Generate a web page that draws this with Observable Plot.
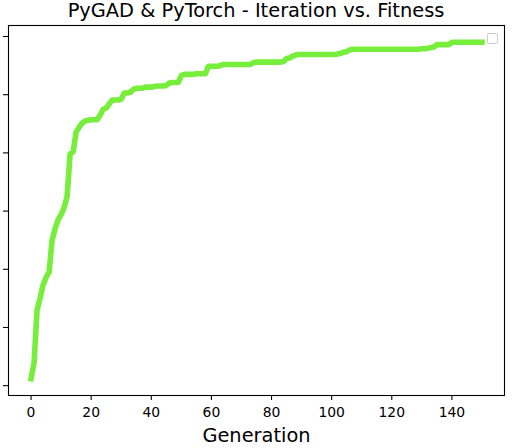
<!DOCTYPE html>
<html>
<head>
<meta charset="utf-8">
<script src="https://cdn.jsdelivr.net/npm/d3@7"></script>
<script src="https://cdn.jsdelivr.net/npm/@observablehq/plot@0.6"></script>
<style>
  html, body { margin: 0; padding: 0; background: #fff; }
  #wrap { position: relative; width: 524px; height: 448px; font-family: "DejaVu Sans", sans-serif; }
  #title { height: 22px; line-height: 22px; font-size: 19.4px; text-align: center; padding-left: 8px; padding-right: 20px; color: #000; white-space: nowrap; }
  #legend { position: absolute; left: 487px; top: 33px; width: 9px; height: 9px; border: 1px solid #ccc; border-radius: 2px; background: rgba(255,255,255,0.8); }
  svg { display: block; }
</style>
</head>
<body>
<div id="wrap">
  <div id="title">PyGAD &amp; PyTorch - Iteration vs. Fitness</div>
  <div id="chart"></div>
  <div id="legend"></div>
</div>
<script>
const titleText = "PyGAD & PyTorch - Iteration vs. Fitness";
const xLabel = "Generation";
const xTicks = [0, 20, 40, 60, 80, 100, 120, 140];
const yTicks = [0, 1, 2, 3, 4, 5, 6];
const lineColor = "#77EE3B";

// best fitness per generation (generation 0 .. 150)
const fitness = [
  0.12, 0.39, 1.30, 1.50, 1.73, 1.86, 1.95, 2.50, 2.70, 2.85,
  2.94, 3.06, 3.25, 3.98, 4.02, 4.36, 4.44, 4.51, 4.55, 4.56,
  4.57, 4.57, 4.57, 4.65, 4.75, 4.77, 4.84, 4.91, 4.91, 4.91,
  4.92, 5.03, 5.03, 5.04, 5.09, 5.11, 5.11, 5.11, 5.13, 5.13,
  5.13, 5.14, 5.15, 5.15, 5.15, 5.16, 5.20, 5.21, 5.21, 5.21,
  5.33, 5.35, 5.35, 5.35, 5.35, 5.36, 5.36, 5.36, 5.36, 5.49,
  5.49, 5.49, 5.49, 5.50, 5.52, 5.52, 5.52, 5.52, 5.52, 5.52,
  5.52, 5.52, 5.52, 5.52, 5.55, 5.56, 5.56, 5.56, 5.56, 5.56,
  5.56, 5.56, 5.56, 5.56, 5.57, 5.62, 5.63, 5.66, 5.68, 5.69,
  5.69, 5.69, 5.69, 5.69, 5.69, 5.69, 5.69, 5.69, 5.69, 5.69,
  5.69, 5.69, 5.70, 5.71, 5.73, 5.74, 5.77, 5.78, 5.78, 5.78,
  5.78, 5.78, 5.78, 5.78, 5.78, 5.78, 5.78, 5.78, 5.78, 5.78,
  5.78, 5.78, 5.78, 5.78, 5.78, 5.78, 5.78, 5.78, 5.78, 5.78,
  5.79, 5.79, 5.80, 5.81, 5.82, 5.86, 5.86, 5.86, 5.86, 5.86,
  5.90, 5.90, 5.90, 5.90, 5.90, 5.90, 5.90, 5.90, 5.90, 5.90,
  5.90
];

const data = fitness.map((f, i) => ({generation: i, fitness: f}));

// matplotlib-style 5% margins
const pad = (lo, hi) => { const r = hi - lo; return [lo - 0.05 * r, hi + 0.05 * r]; };
const xDomain = pad(0, fitness.length - 1);
const yDomain = pad(d3.min(fitness), d3.max(fitness));

const chart = Plot.plot({
  width: 524,
  height: 426,
  marginTop: 3,
  marginLeft: 8,
  marginRight: 20,
  marginBottom: 53,
  style: {fontFamily: "DejaVu Sans, sans-serif", fontSize: "13.9px", color: "#000", background: "#fff"},
  x: {domain: xDomain},
  y: {domain: yDomain},
  marks: [
    Plot.axisX({ticks: xTicks, tickSize: 5, tickPadding: 7, fontSize: 13.9, stroke: "#000", strokeWidth: 1.1, label: xLabel, labelAnchor: "center", labelArrow: "none", labelOffset: 46}),
    Plot.axisY({ticks: yTicks, tickSize: 5, tickFormat: () => "", label: null, stroke: "#000", strokeWidth: 1.1}),
    Plot.line(data, {x: "generation", y: "fitness", stroke: lineColor, strokeWidth: 5.6, strokeLinecap: "square", strokeLinejoin: "round"}),
    Plot.frame({stroke: "#000", strokeWidth: 1.1})
  ]
});
document.getElementById("chart").appendChild(chart);
// make axis label font match matplotlib's 14pt label
chart.querySelectorAll("g[aria-label='x-axis label'] text").forEach(t => t.setAttribute("font-size", "19.4"));
</script>
</body>
</html>
